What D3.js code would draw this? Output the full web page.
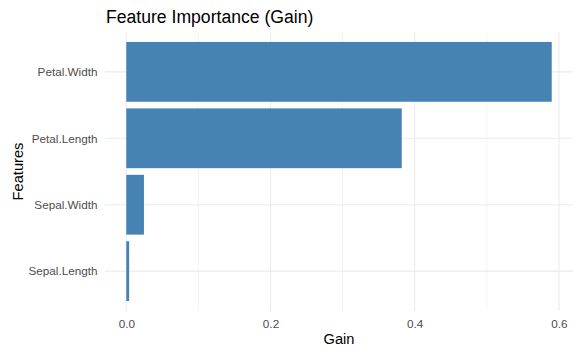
<!DOCTYPE html>
<html><head><meta charset="utf-8">
<script src="https://cdn.jsdelivr.net/npm/d3@7"></script>
<style>body{margin:0;background:#fff;} svg{display:block;}</style>
</head><body>
<svg id="chart" width="581" height="355"></svg>
<script>
const features = ["Petal.Width", "Petal.Length", "Sepal.Width", "Sepal.Length"];
const gains = [0.590, 0.382, 0.0245, 0.004];
const xTicks = [0.0, 0.2, 0.4, 0.6];
const xMinorTicks = [0.1, 0.3, 0.5];
const titleText = "Feature Importance (Gain)";
const xTitle = "Gain";
const yTitle = "Features";

const svg = d3.select("#chart");
const panel = {left: 105, right: 573, top: 32, bottom: 311};
const font = "'Liberation Sans', Arial, sans-serif";

const maxV = d3.max(gains);
const pad = maxV * 0.05;
const x = d3.scaleLinear().domain([0 - pad, maxV + pad]).range([panel.left, panel.right]);
const y = d3.scaleBand().domain(features).range([panel.top, panel.bottom]).paddingInner(0.1).paddingOuter(0.15);

const g = svg.append("g");
g.selectAll("line.minor").data(xMinorTicks).join("line")
  .attr("x1", d => x(d)).attr("x2", d => x(d))
  .attr("y1", panel.top).attr("y2", panel.bottom)
  .attr("stroke", "#ebebeb").attr("stroke-width", 0.6);
g.selectAll("line.majx").data(xTicks).join("line")
  .attr("x1", d => x(d)).attr("x2", d => x(d))
  .attr("y1", panel.top).attr("y2", panel.bottom)
  .attr("stroke", "#ebebeb").attr("stroke-width", 1.07);
g.selectAll("line.majy").data(features).join("line")
  .attr("x1", panel.left).attr("x2", panel.right)
  .attr("y1", d => y(d) + y.bandwidth() / 2).attr("y2", d => y(d) + y.bandwidth() / 2)
  .attr("stroke", "#ebebeb").attr("stroke-width", 1.07);

svg.append("g").selectAll("rect").data(features).join("rect")
  .attr("x", x(0))
  .attr("y", d => y(d))
  .attr("width", (d, i) => x(gains[i]) - x(0))
  .attr("height", y.bandwidth())
  .attr("fill", "#4682b4");

const xAxis = d3.axisBottom(x).tickValues(xTicks).tickFormat(d3.format(".1f")).tickSize(0).tickPadding(0);
const xa = svg.append("g").attr("transform", `translate(0,${panel.bottom})`).call(xAxis);
xa.select(".domain").remove();
xa.selectAll("text").attr("dy", null).attr("y", 17)
  .attr("fill", "#4d4d4d").style("font-family", font).style("font-size", "11.73px");

const yAxis = d3.axisLeft(y).tickSize(0).tickPadding(0);
const ya = svg.append("g").attr("transform", `translate(${panel.left - 7.5},0)`).call(yAxis);
ya.select(".domain").remove();
ya.selectAll("text").attr("fill", "#4d4d4d").attr("dy", "0.36em").attr("x", 0)
  .style("font-family", font).style("font-size", "11.73px");

svg.append("text").attr("x", panel.left + 1).attr("y", 22.5)
  .attr("fill", "#000").style("font-family", font).style("font-size", "17.6px").text(titleText);
svg.append("text").attr("x", (panel.left + panel.right) / 2).attr("y", 344)
  .attr("text-anchor", "middle").attr("fill", "#000")
  .style("font-family", font).style("font-size", "14.67px").text(xTitle);
svg.append("text").attr("transform", `translate(23,${(panel.top + panel.bottom) / 2}) rotate(-90)`)
  .attr("text-anchor", "middle").attr("fill", "#000")
  .style("font-family", font).style("font-size", "14.67px").text(yTitle);
</script>
</body></html>
